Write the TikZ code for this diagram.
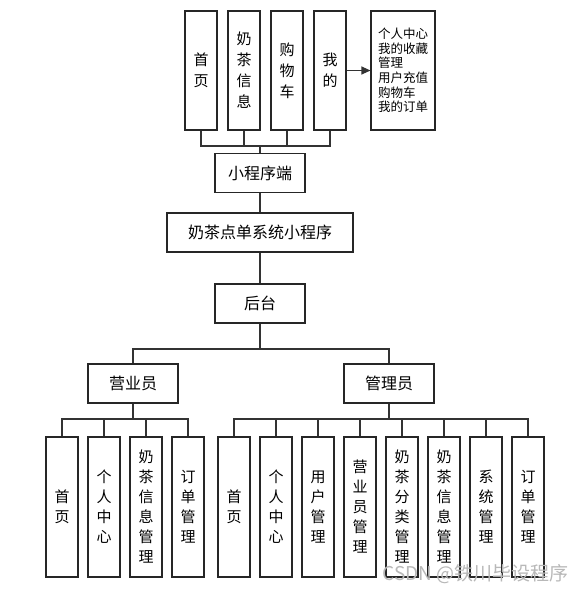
\documentclass[tikz,border=0pt]{standalone}
\usepackage{fontspec}
\newfontfamily\cjk{Noto Sans CJK SC}
\usetikzlibrary{arrows.meta}
\begin{document}
\begin{tikzpicture}[x=1pt,y=-1pt,line width=1.1pt,
  box/.style={draw=black!85,fill=white,inner sep=0pt,align=center},
  topbox/.style={box,minimum width=32pt,minimum height=119pt,font=\cjk\fontsize{15}{21}\selectfont},
  botbox/.style={box,minimum width=32pt,minimum height=140pt,font=\cjk\fontsize{15}{20}\selectfont},
  hbox/.style={box,minimum width=90pt,minimum height=39pt,font=\cjk\fontsize{16}{20}\selectfont},
  conn/.style={draw=black!80,line width=1.1pt}]
\useasboundingbox (0,0) rectangle (588,592);
% top row
\node[topbox] (t1) at (201,70.5) {首\\页};
\node[topbox] (t2) at (244,70.5) {奶\\茶\\信\\息};
\node[topbox] (t3) at (287,70.5) {购\\物\\车};
\node[topbox] (t4) at (330,70.5) {我\\的};
\node[box,minimum width=64pt,minimum height=119pt,align=left,font=\cjk\fontsize{12.5}{14.6}\selectfont] (info) at (403,70.5) {个人中心\\我的收藏\\管理\\用户充值\\购物车\\我的订单};
\draw[conn,-{Triangle[length=9pt,width=8pt]}] (t4.east) -- (info.west);
% middle
\node[hbox] (xcx) at (260,173) {小程序端};
\node[hbox,minimum width=186pt] (sys) at (260,232.5) {奶茶点单系统小程序};
\node[hbox] (ht) at (260,303.5) {后台};
\node[hbox] (yyy) at (133,383.5) {营业员};
\node[hbox] (gly) at (389,383.5) {管理员};
\foreach \n in {t1,t2,t3,t4}
  \draw[conn] (\n.south) -- (\n.south |- 0,146) -| (xcx.north);
\draw[conn] (xcx.south) -- (sys.north);
\draw[conn] (sys.south) -- (ht.north);
\draw[conn] (ht.south) -- (ht.south |- 0,349) -| (yyy.north);
\draw[conn] (ht.south) -- (ht.south |- 0,349) -| (gly.north);
% bottom, group 1
\node[botbox] (a1) at (62,507) {首\\页};
\node[botbox] (a2) at (104,507) {个\\人\\中\\心};
\node[botbox] (a3) at (146,507) {奶\\茶\\信\\息\\管\\理};
\node[botbox] (a4) at (188,507) {订\\单\\管\\理};
\foreach \n in {a1,a2,a3,a4}
  \draw[conn] (yyy.south) -- (yyy.south |- 0,419) -| (\n.north);
% bottom, group 2
\node[botbox] (b1) at (234,507) {首\\页};
\node[botbox] (b2) at (276,507) {个\\人\\中\\心};
\node[botbox] (b3) at (318,507) {用\\户\\管\\理};
\node[botbox] (b4) at (360,507) {营\\业\\员\\管\\理};
\node[botbox] (b5) at (402,507) {奶\\茶\\分\\类\\管\\理};
\node[botbox] (b6) at (444,507) {奶\\茶\\信\\息\\管\\理};
\node[botbox] (b7) at (486,507) {系\\统\\管\\理};
\node[botbox] (b8) at (528,507) {订\\单\\管\\理};
\foreach \n in {b1,b2,b3,b4,b5,b6,b7,b8}
  \draw[conn] (gly.south) -- (gly.south |- 0,419) -| (\n.north);
% watermark
\node[anchor=west,inner sep=0pt,text=black!28,font=\cjk\fontsize{19}{19}\selectfont] (wm) at (382,574) {CSDN @铁川毕设程序};
\end{tikzpicture}
\end{document}
